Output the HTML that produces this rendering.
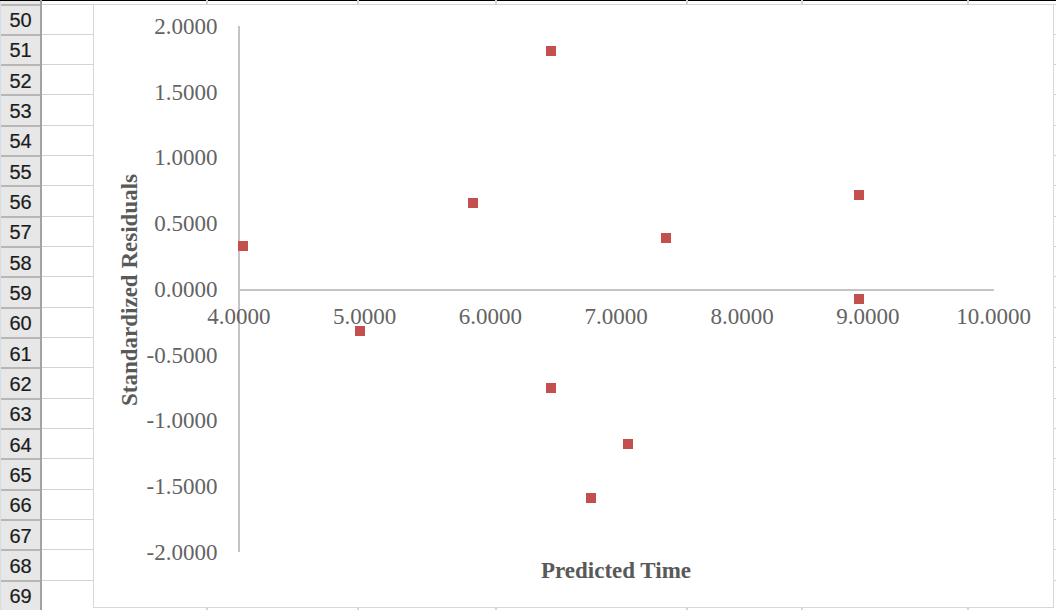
<!DOCTYPE html>
<html><head><meta charset="utf-8"><style>
*{margin:0;padding:0;box-sizing:border-box}
html,body{width:1056px;height:610px;overflow:hidden;background:#fff;position:relative}
.a{position:absolute}
.hdr{left:0;top:0;width:40px;height:610px;background:#e7e7e7}
.hb{left:40px;top:0;width:2px;height:610px;background:#a2a2a2}
.rl{left:42px;width:1014px;height:1px;background:#d6d2d2}
.rlh{left:1px;width:39px;height:2px;background:#bab6b6}
.cl{width:1.5px;background:#d8d4d4}
.rn{left:0.5px;width:40px;text-align:center;font-family:"Liberation Sans",sans-serif;font-size:20px;color:#1c1c1c;line-height:20px;-webkit-text-stroke:0.2px #1c1c1c}
.chart{left:92.5px;top:4px;width:961px;height:603.5px;background:#fff;border:1.5px solid #dad6d6}
.yl{font-family:"Liberation Serif",serif;font-size:23px;color:#636363;line-height:22px;text-align:right;width:120px;white-space:nowrap}
.xl{font-family:"Liberation Serif",serif;font-size:23px;color:#636363;line-height:22px;text-align:center;width:120px;white-space:nowrap}
.ttl{font-family:"Liberation Serif",serif;font-weight:bold;font-size:23px;color:#595959;line-height:24px;white-space:nowrap;text-align:center}
.m{width:10px;height:10px;background:#c3504e}
</style></head>
<body>
<div class="a hdr"></div>
<div class="a" style="left:0;top:0;width:1056px;height:1px;background:#000"></div>
<div class="a rlh" style="top:4px"></div>
<div class="a rl" style="top:4px"></div>
<div class="a rlh" style="top:34px"></div>
<div class="a rl" style="top:34px"></div>
<div class="a rlh" style="top:64px"></div>
<div class="a rl" style="top:64px"></div>
<div class="a rlh" style="top:94px"></div>
<div class="a rl" style="top:94px"></div>
<div class="a rlh" style="top:125px"></div>
<div class="a rl" style="top:125px"></div>
<div class="a rlh" style="top:155px"></div>
<div class="a rl" style="top:155px"></div>
<div class="a rlh" style="top:185px"></div>
<div class="a rl" style="top:185px"></div>
<div class="a rlh" style="top:216px"></div>
<div class="a rl" style="top:216px"></div>
<div class="a rlh" style="top:246px"></div>
<div class="a rl" style="top:246px"></div>
<div class="a rlh" style="top:276px"></div>
<div class="a rl" style="top:276px"></div>
<div class="a rlh" style="top:307px"></div>
<div class="a rl" style="top:307px"></div>
<div class="a rlh" style="top:337px"></div>
<div class="a rl" style="top:337px"></div>
<div class="a rlh" style="top:367px"></div>
<div class="a rl" style="top:367px"></div>
<div class="a rlh" style="top:398px"></div>
<div class="a rl" style="top:398px"></div>
<div class="a rlh" style="top:428px"></div>
<div class="a rl" style="top:428px"></div>
<div class="a rlh" style="top:458px"></div>
<div class="a rl" style="top:458px"></div>
<div class="a rlh" style="top:489px"></div>
<div class="a rl" style="top:489px"></div>
<div class="a rlh" style="top:519px"></div>
<div class="a rl" style="top:519px"></div>
<div class="a rlh" style="top:549px"></div>
<div class="a rl" style="top:549px"></div>
<div class="a rlh" style="top:580px"></div>
<div class="a rl" style="top:580px"></div>
<div class="a cl" style="left:206.25px;top:0;height:610px"></div>
<div class="a cl" style="left:357.25px;top:0;height:610px"></div>
<div class="a cl" style="left:495.25px;top:0;height:610px"></div>
<div class="a cl" style="left:686.25px;top:0;height:610px"></div>
<div class="a cl" style="left:801.25px;top:0;height:610px"></div>
<div class="a cl" style="left:967.25px;top:0;height:610px"></div>
<div class="a hb"></div>
<div class="a" style="left:0;top:1px;width:1px;height:609px;background:#d6dde5"></div>
<div class="a rn" style="top:9.91px">50</div>
<div class="a rn" style="top:40.24px">51</div>
<div class="a rn" style="top:70.57px">52</div>
<div class="a rn" style="top:100.91px">53</div>
<div class="a rn" style="top:131.23px">54</div>
<div class="a rn" style="top:161.56px">55</div>
<div class="a rn" style="top:191.89px">56</div>
<div class="a rn" style="top:222.22px">57</div>
<div class="a rn" style="top:252.56px">58</div>
<div class="a rn" style="top:282.88px">59</div>
<div class="a rn" style="top:313.21px">60</div>
<div class="a rn" style="top:343.55px">61</div>
<div class="a rn" style="top:373.88px">62</div>
<div class="a rn" style="top:404.20px">63</div>
<div class="a rn" style="top:434.54px">64</div>
<div class="a rn" style="top:464.87px">65</div>
<div class="a rn" style="top:495.19px">66</div>
<div class="a rn" style="top:525.52px">67</div>
<div class="a rn" style="top:555.85px">68</div>
<div class="a rn" style="top:586.18px">69</div>
<div class="a chart"></div>
<div class="a" style="left:238px;top:26.4px;width:1.5px;height:526px;background:#c4c4c4"></div>
<div class="a" style="left:238px;top:289px;width:755.6px;height:1.5px;background:#c4c4c4"></div>
<div class="a yl" style="left:97.4px;top:15.90px">2.0000</div>
<div class="a yl" style="left:97.4px;top:81.66px">1.5000</div>
<div class="a yl" style="left:97.4px;top:147.42px">1.0000</div>
<div class="a yl" style="left:97.4px;top:213.18px">0.5000</div>
<div class="a yl" style="left:97.4px;top:278.94px">0.0000</div>
<div class="a yl" style="left:97.4px;top:344.70px">-0.5000</div>
<div class="a yl" style="left:97.4px;top:410.46px">-1.0000</div>
<div class="a yl" style="left:97.4px;top:476.22px">-1.5000</div>
<div class="a yl" style="left:97.4px;top:541.98px">-2.0000</div>
<div class="a xl" style="left:178.8px;top:305.50px">4.0000</div>
<div class="a xl" style="left:304.6px;top:305.50px">5.0000</div>
<div class="a xl" style="left:430.4px;top:305.50px">6.0000</div>
<div class="a xl" style="left:556.2px;top:305.50px">7.0000</div>
<div class="a xl" style="left:682.0px;top:305.50px">8.0000</div>
<div class="a xl" style="left:807.8px;top:305.50px">9.0000</div>
<div class="a xl" style="left:933.6px;top:305.50px">10.0000</div>
<div class="a ttl" style="left:416px;top:559px;width:400px">Predicted Time</div>
<div class="a ttl" style="left:-70px;top:277.5px;width:400px;transform:rotate(-90deg)">Standardized Residuals</div>
<div class="a m" style="left:238.0px;top:241.0px"></div>
<div class="a m" style="left:354.5px;top:326.0px"></div>
<div class="a m" style="left:468.0px;top:198.0px"></div>
<div class="a m" style="left:546.0px;top:46.0px"></div>
<div class="a m" style="left:546.0px;top:383.0px"></div>
<div class="a m" style="left:586.0px;top:493.0px"></div>
<div class="a m" style="left:622.7px;top:439.0px"></div>
<div class="a m" style="left:661.0px;top:233.0px"></div>
<div class="a m" style="left:854.3px;top:190.0px"></div>
<div class="a m" style="left:854.4px;top:293.7px"></div>
</body></html>
